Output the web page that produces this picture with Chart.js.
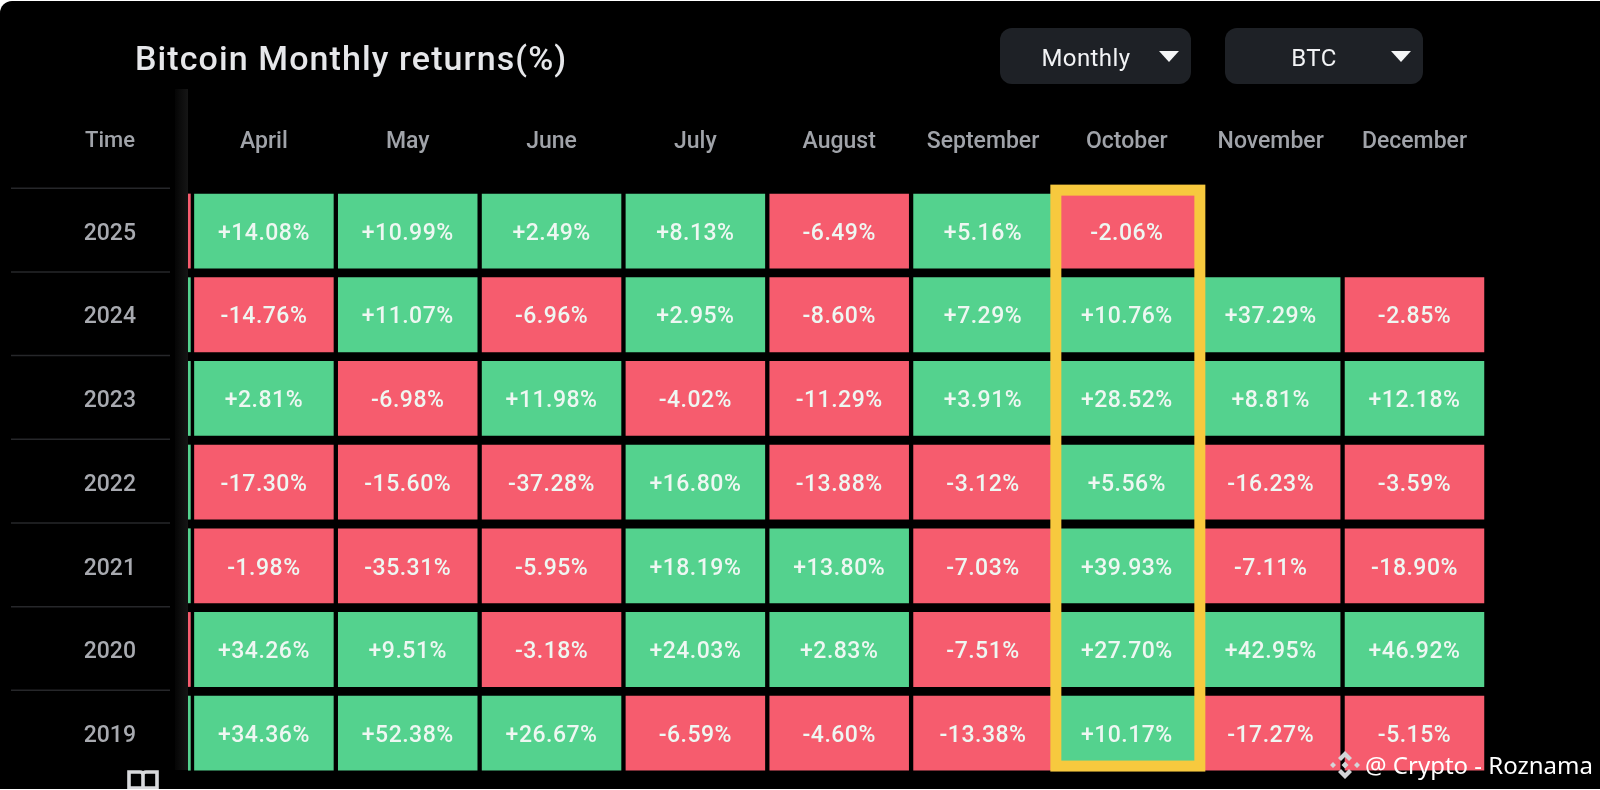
<!DOCTYPE html>
<html>
<head>
<meta charset="utf-8">
<title>Bitcoin Monthly returns(%)</title>
<script src="https://cdn.jsdelivr.net/npm/chart.js@4/dist/chart.umd.min.js"></script>
<style>
  html, body { margin: 0; padding: 0; background: #fff; width: 1600px; height: 790px; overflow: hidden; }
  #frame { position: absolute; left: 0; top: 1px; width: 1600px; height: 788px; background: #000; border-top-left-radius: 12px; overflow: hidden; font-family: Roboto, sans-serif; }
  #venditeChart { position: absolute; left: 0; top: -1px; }
  #titolo { position: absolute; left: 135px; top: 37px; font-size: 34px; font-weight: 500; line-height: 40px; color: #e6e7ea; letter-spacing: 1.1px; white-space: nowrap; }
  .select { position: absolute; top: 27px; height: 56px; background: #1e2126; border-radius: 12px; color: #f2f3f5; font-size: 24px; letter-spacing: 0.4px; line-height: 60px; }
  .select span { position: absolute; top: 0; transform: translateX(-50%); }
  .select i { position: absolute; top: 23px; width: 0; height: 0; border-left: 10px solid transparent; border-right: 10px solid transparent; border-top: 11px solid #f4f5f6; }
  #firma { position: absolute; left: 1365px; top: 748px; font: 24px "Noto Sans", sans-serif; line-height: 32px; color: #fff; white-space: nowrap; }
  #logo { position: absolute; left: 1329px; top: 748px; }
  #libro { position: absolute; left: 127px; top: 769px; }
</style>
</head>
<body>
<div id="frame">
  <canvas id="venditeChart" width="1600" height="790"></canvas>
  <div id="titolo">Bitcoin Monthly returns(%)</div>
  <div class="select" style="left:1000px;width:191px"><span style="left:86px">Monthly</span><i style="left:159px"></i></div>
  <div class="select" style="left:1225px;width:198px"><span style="left:89px">BTC</span><i style="left:166px"></i></div>
  <svg id="libro" width="32" height="20" viewBox="0 0 32 20"><path d="M2 18V2h11q3 0 3 3q0-3 3-3h11v16z M16 5v13" fill="none" stroke="#d8d9dc" stroke-width="3.6"/></svg>
  <svg id="logo" width="32" height="32" viewBox="0 0 32 32" fill="#d4d5d8"><path d="M16 2l7 7-3 3-4-4-4 4-3-3z M16 30l-7-7 3-3 4 4 4-4 3 3z M1 16l3-3 3 3-3 3z M25 16l3-3 3 3-3 3z M16 12.5l3.5 3.5-3.5 3.5-3.5-3.5z"/></svg>
  <div id="firma">@ Crypto - Roznama</div>
</div>
<script>
const mesi = ['April', 'May', 'June', 'July', 'August', 'September', 'October', 'November', 'December'];
const anni = [2025, 2024, 2023, 2022, 2021, 2020, 2019];

const r2025 = [14.08, 10.99, 2.49, 8.13, -6.49, 5.16, -2.06];
const r2024 = [-14.76, 11.07, -6.96, 2.95, -8.60, 7.29, 10.76, 37.29, -2.85];
const r2023 = [2.81, -6.98, 11.98, -4.02, -11.29, 3.91, 28.52, 8.81, 12.18];
const r2022 = [-17.30, -15.60, -37.28, 16.80, -13.88, -3.12, 5.56, -16.23, -3.59];
const r2021 = [-1.98, -35.31, -5.95, 18.19, 13.80, -7.03, 39.93, -7.11, -18.90];
const r2020 = [34.26, 9.51, -3.18, 24.03, 2.83, -7.51, 27.70, 42.95, 46.92];
const r2019 = [34.36, 52.38, 26.67, -6.59, -4.60, -13.38, 10.17, -17.27, -5.15];
const rendimenti = [r2025, r2024, r2023, r2022, r2021, r2020, r2019];

// Il mese prima di April si vede solo come una riga sottile a sinistra
const marzo = [-1, 1, 1, 1, 1, -1, 1];

const VERDE = '#54d28e';
const ROSSO = '#f65c6e';
const GIALLO = '#f7c93e';
const META_CELLA = 0.447;
// Roboto sta un po' alta con baseline middle, le etichette vanno abbassate
const SCOSTO_ETICHETTE = 0.036;

function formatta(v) {
    return (v >= 0 ? '+' : '') + v.toFixed(2) + '%';
}

// Un dataset per ogni anno, ogni cella e' una barra flottante attorno all'anno
const datasets = anni.map((anno, i) => ({
    label: String(anno),
    data: rendimenti[i].map((valore, j) => ({
        x: mesi[j],
        y: [anno - META_CELLA, anno + META_CELLA],
        valore
    })),
    backgroundColor: c => (c.raw && c.raw.valore >= 0) ? VERDE : ROSSO,
    borderWidth: 0,
    grouped: false,
    barPercentage: 0.97,
    categoryPercentage: 1
}));

const sfondoTabella = {
    id: 'sfondoTabella',
    beforeDatasetsDraw(chart) {
        const { ctx, scales: { y } } = chart;
        ctx.save();
        // ombra verticale della colonna fissa
        const g = ctx.createLinearGradient(174, 0, 190, 0);
        g.addColorStop(0, 'rgba(32,32,32,0.1)');
        g.addColorStop(1, 'rgba(30,30,30,0.8)');
        ctx.fillStyle = g;
        ctx.fillRect(175, 89, 13, 681);
        // righe sotto la colonna Time
        ctx.strokeStyle = '#26272a';
        ctx.lineWidth = 1.5;
        anni.forEach(anno => {
            const py = y.getPixelForValue(anno + 0.5);
            ctx.beginPath();
            ctx.moveTo(11, py - 1);
            ctx.lineTo(170, py - 1);
            ctx.stroke();
        });
        // residuo del mese nascosto
        anni.forEach((anno, i) => {
            const y0 = y.getPixelForValue(anno + META_CELLA);
            const y1 = y.getPixelForValue(anno - META_CELLA);
            ctx.fillStyle = marzo[i] >= 0 ? VERDE : ROSSO;
            ctx.fillRect(188, y0, 2.7, y1 - y0);
        });
        ctx.fillStyle = '#a0a3a9';
        ctx.font = '500 22px Roboto';
        ctx.textAlign = 'center';
        ctx.textBaseline = 'middle';
        ctx.fillText('Time', 110, 141);
        ctx.restore();
    }
};

const testoCelle = {
    id: 'testoCelle',
    afterDatasetsDraw(chart) {
        const { ctx, scales: { x, y } } = chart;
        ctx.save();
        ctx.font = '500 23px Roboto';
        ctx.letterSpacing = '0.5px';
        ctx.textAlign = 'center';
        ctx.textBaseline = 'middle';
        ctx.fillStyle = '#eef7f2';
        chart.data.datasets.forEach((ds, i) => {
            chart.getDatasetMeta(i).data.forEach((bar, j) => {
                const c = bar.getCenterPoint();
                ctx.fillText(formatta(ds.data[j].valore), c.x, c.y + 3);
            });
        });
        // riquadro giallo sulla colonna October
        const xo = x.getPixelForValue(mesi.indexOf('October'));
        const top = y.getPixelForValue(anni[0] + META_CELLA) - 9;
        const bottom = y.getPixelForValue(anni[anni.length - 1] - META_CELLA) + 1;
        ctx.strokeStyle = GIALLO;
        ctx.lineWidth = 11;
        ctx.strokeRect(xo - 71, top + 5.5, 144, bottom - top - 11);
        ctx.restore();
    }
};

const ctx = document.getElementById('venditeChart').getContext('2d');
new Chart(ctx, {
    type: 'bar',
    data: { labels: mesi, datasets },
    options: {
        responsive: false,
        animation: false,
        layout: { autoPadding: false, padding: { left: 0, top: 0, right: 113.6, bottom: 15 } },
        plugins: { legend: { display: false }, tooltip: { enabled: false } },
        scales: {
            x: {
                position: 'top',
                grid: { display: false, drawTicks: false },
                border: { display: false },
                afterFit(s) { s.height = 189.2; },
                ticks: { color: '#a0a3a9', font: { family: 'Roboto', size: 23, weight: '500' }, padding: 33, maxRotation: 0, autoSkip: false }
            },
            y: {
                min: 2018.5,
                max: 2025.5,
                grid: { drawOnChartArea: false, drawTicks: true, tickLength: 56, tickColor: 'transparent' },
                border: { display: false },
                afterFit(s) { s.width = 192; },
                afterBuildTicks(s) { s.ticks = anni.map(anno => ({ value: anno - SCOSTO_ETICHETTE })); },
                ticks: { color: '#a8aab0', font: { family: 'Roboto', size: 23, weight: '500' }, padding: 0, callback: v => String(Math.round(v)) }
            }
        }
    },
    plugins: [sfondoTabella, testoCelle]
});
</script>
</body>
</html>
